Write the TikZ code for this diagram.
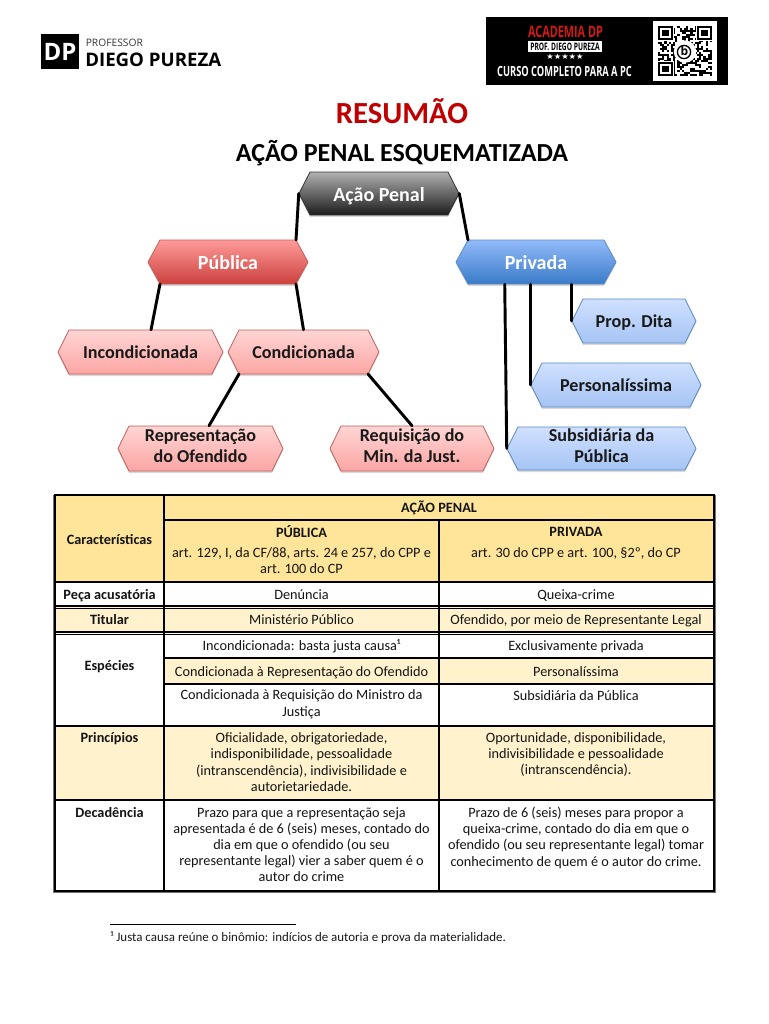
\documentclass[tikz,border=0pt]{standalone}
\usepackage{fontspec}
\usepackage{graphicx}
\setmainfont{Carlito}
\newfontfamily\logofont{Open Sans}
\newfontfamily\symfont{DejaVu Sans}
\definecolor{hdrY}{HTML}{FFE599}
\definecolor{lightY}{HTML}{FFF2CC}
\definecolor{redT}{HTML}{C00000}
\definecolor{grayA}{HTML}{B0B0B0}
\definecolor{grayB}{HTML}{1C1C1C}
\definecolor{redA}{HTML}{FF9B99}
\definecolor{redB}{HTML}{CB403D}
\definecolor{pinkA}{HTML}{FFD5D4}
\definecolor{pinkB}{HTML}{FBA6A4}
\definecolor{blueA}{HTML}{92BAF9}
\definecolor{blueB}{HTML}{3A7BC9}
\definecolor{paleA}{HTML}{D0E0FF}
\definecolor{paleB}{HTML}{A5C4F4}
\definecolor{redE}{HTML}{C0605D}
\definecolor{blueE}{HTML}{5A8AC4}
\newcommand{\hexbox}[8]{% name,left,right,top,bottom,inset,style,text
  \pgfmathsetlengthmacro{\hexw}{(#3-#2)*0.75}
  \pgfmathsetlengthmacro{\hexh}{(#5-#4)*0.75}
  \pgfmathsetmacro{\hexcx}{(#2+#3)/2}
  \pgfmathsetmacro{\hexcy}{(#4+#5)/2}
  \pgfmathsetmacro{\hexa}{#2+#6}
  \pgfmathsetmacro{\hexb}{#3-#6}
  \fill[black!25,opacity=.6] (#2,\hexcy+2) -- (\hexa,#4+2) -- (\hexb,#4+2) -- (#3,\hexcy+2) -- (\hexb,#5+2) -- (\hexa,#5+2) -- cycle;
  \shade[#7] (#2,\hexcy) -- (\hexa,#4) -- (\hexb,#4) -- (#3,\hexcy) -- (\hexb,#5) -- (\hexa,#5) -- cycle;
  \node[hextext,minimum width=\hexw,minimum height=\hexh] (#1) at (\hexcx,\hexcy) {#8};
  \coordinate (#1-tl) at (\hexa,#4);
  \coordinate (#1-tr) at (\hexb,#4);
  \coordinate (#1-bl) at (\hexa,#5);
  \coordinate (#1-br) at (\hexb,#5);
}
\newcommand{\wlabel}[1]{\raisebox{-.8pt}{\textcolor{white}{\fontsize{15}{15.7}\selectfont #1}}}
\tikzset{
  strutted/.style={execute at begin node=\strut,execute at end node=\strut},
  hextext/.style={inner sep=0pt,align=center,text=black!90,execute at begin node={\rule{0pt}{15pt}},execute at end node=\strut,font=\bfseries\fontsize{13.6}{15.7}\selectfont},
  hexgray/.style={top color=grayA,bottom color=grayB,draw=black!80,line width=.6pt},
  hexred/.style={top color=redA,bottom color=redB,draw=redE,line width=.6pt},
  hexredl/.style={top color=pinkA,bottom color=pinkB,draw=redE,line width=.6pt},
  hexblue/.style={top color=blueA,bottom color=blueB,draw=blueE,line width=.6pt},
  hexbluel/.style={top color=paleA,bottom color=paleB,draw=blueE,line width=.6pt},
  conn/.style={line width=2.2pt,black,line cap=round},
  celltxt/.style={inner sep=0pt,align=center,text=black!92,strutted,yshift=-1.1pt,font=\fontsize{10.7}{12.15}\selectfont},
  cellhead/.style={celltxt,font=\bfseries\fontsize{10.7}{12.15}\selectfont},
  rule/.style={black,line width=1.2pt},
  outer/.style={black,line width=1.5pt},
}
\begin{document}
\begin{tikzpicture}[x=0.75pt,y=-0.75pt]
\useasboundingbox (0,0) rectangle (768,1024);
\fill[white] (0,0) rectangle (768,1024);

% Logo
\fill[black] (41,34) rectangle (79,69);
\node[inner sep=0pt,text=white,font=\logofont\bfseries\fontsize{18}{18}\selectfont] (dp) at (60,52) {DP};
\node[inner sep=0pt,anchor=west,text=black!80,font=\logofont\fontsize{7.7}{8}\selectfont] (prof) at (85.5,42.5) {PROFESSOR};
\node[inner sep=0pt,anchor=west,text=black,font=\logofont\bfseries\fontsize{14}{15}\selectfont] (diego) at (85,60) {DIEGO PUREZA};

% Banner
\fill[black] (486,17) rectangle (728,85);
\node[inner sep=0pt,text={red!80!black!90!white}] (acad) at (565.5,32) {\resizebox{56pt}{8.6pt}{\logofont\bfseries ACADEMIA DP}};
\fill[white] (528,41) rectangle (602,52);
\node[inner sep=0pt,text=black] (prf) at (565,46.5) {\resizebox{52pt}{5.6pt}{\logofont\bfseries PROF. DIEGO PUREZA}};
\node[inner sep=0pt,text=white] (stars) at (565,56.3) {\resizebox{28pt}{4.2pt}{\symfont ★★★★★}};
\node[inner sep=0pt,text=white] (curso) at (564.5,72) {\resizebox{101pt}{7.6pt}{\logofont\bfseries CURSO COMPLETO PARA A PC}};
% QR
\fill[white] (653,21) rectangle (717,81);
\begin{scope}[shift={(658,26)},x=1.62pt,y=-1.5pt]
  \pgfmathsetseed{4711}
  \foreach \i in {0,...,24}{
    \foreach \j in {0,...,24}{
      \pgfmathsetmacro{\rr}{rnd}
      \ifdim\rr pt<0.52pt
        \fill[black] (\i,\j) rectangle ++(1,1);
      \fi
    }
  }
  \foreach \ox/\oy in {0/0,18/0,0/18}{
    \fill[white] (\ox-.5,\oy-.5) rectangle ++(8,8);
    \fill[black] (\ox,\oy) rectangle ++(7,7);
    \fill[white] (\ox+1,\oy+1) rectangle ++(5,5);
    \fill[black] (\ox+2,\oy+2) rectangle ++(3,3);
  }
  \fill[white] (12.5,12.8) circle [x radius=5.2,y radius=5.6];
\end{scope}
\draw[black,line width=1pt] (684,52) circle [radius=6.6];
\node[inner sep=0pt,text=black,font=\logofont\bfseries\fontsize{9}{9}\selectfont] (qrb) at (684.3,51) {b};

% Titles
\node[inner sep=0pt,text=redT,font=\bfseries\fontsize{23}{26}\selectfont] (resumo) at (402,111) {RESUMÃO};
\node[inner sep=0pt,text=black,font=\bfseries\fontsize{19.5}{22}\selectfont] (sub) at (402,153) {AÇÃO PENAL ESQUEMATIZADA};

% Hexagons
\hexbox{acao}{299}{459}{172}{215}{11}{hexgray}{\wlabel{Ação Penal}}
\hexbox{pub}{148}{308}{240}{284}{12}{hexred}{\wlabel{Pública}}
\hexbox{priv}{456}{616}{240}{284}{12}{hexblue}{\wlabel{Privada}}
\hexbox{inc}{58}{223}{330}{374}{11}{hexredl}{Incondicionada}
\hexbox{cond}{228}{379}{330}{374}{11}{hexredl}{Condicionada}
\hexbox{rep}{118}{283}{426}{471}{11}{hexredl}{Representação\\do Ofendido}
\hexbox{req}{330}{494}{426}{471}{11}{hexredl}{Requisição do\\Min. da Just.}
\hexbox{dita}{572}{696}{299}{343}{11}{hexbluel}{Prop. Dita}
\hexbox{pers}{531}{701}{363}{407}{11}{hexbluel}{Personalíssima}
\hexbox{subs}{507}{696}{427}{470}{11}{hexbluel}{Subsidiária da\\Pública}

% Connectors
\draw[conn] (acao.west) -- (pub-tr);
\draw[conn] (acao.east) -- (priv-tl);
\draw[conn] (pub-bl) -- ([xshift=7.9pt]inc.north);
\draw[conn] (pub-br) -- (cond.north);
\draw[conn] (cond-bl) -- ([xshift=6.4pt]rep.north);
\draw[conn] (cond-br) -- (req.north);
\draw[conn] ([xshift=-1.5pt]subs.west |- priv.south) -- (subs.west);
\draw[conn] (pers.west |- priv.south) -- (pers.west);
\draw[conn] (dita.west |- priv.south) -- (dita.west);

% Table fills
\fill[hdrY] (55,495) rectangle (713,582);
\fill[lightY] (55,607) rectangle (713,633);
\fill[lightY] (164,658) rectangle (713,684);
\fill[lightY] (55,726) rectangle (713,800);

% Table rules
\draw[rule] (164,520) -- (713,520);
\draw[rule] (55,582) -- (713,582);
\draw[black,line width=.8pt] (55,606) -- (713,606);
\draw[black,line width=.8pt] (55,608.6) -- (713,608.6);
\draw[black,line width=.8pt] (55,632) -- (713,632);
\draw[black,line width=.8pt] (55,634.6) -- (713,634.6);
\draw[rule] (164,658) -- (713,658);
\draw[rule] (164,684) -- (713,684);
\draw[rule] (55,726) -- (713,726);
\draw[rule] (55,800) -- (713,800);
\draw[rule] (164,495) -- (164,891);
\draw[rule] (439,520) -- (439,891);
\draw[black!55,line width=.9pt] (54,494.5) -- (54,892) -- (715,892) -- (715,494.5);
\draw[outer] (55.3,495) rectangle (713.7,890.7);

% Table text
\node[cellhead] (t0) at (439,508) {AÇÃO PENAL};
\node[cellhead] (t1) at (109.5,540) {Características};
\node[cellhead] (t2) at (301.5,532) {PÚBLICA};
\node[cellhead] (t3) at (576,532) {PRIVADA};
\node[celltxt] (t4) at (301.5,561.5) {art. 129, I, da CF/88, arts. 24 e 257, do CPP e\\art. 100 do CP};
\node[celltxt] (t5) at (576,553) {art. 30 do CPP e art. 100, §2º, do CP};
\node[cellhead] (t6) at (109.5,594.5) {Peça acusatória};
\node[celltxt] (t7) at (301.5,594.5) {Denúncia};
\node[celltxt] (t8) at (576,594.5) {Queixa-crime};
\node[cellhead] (t9) at (109.5,620) {Titular};
\node[celltxt] (t10) at (301.5,620) {Ministério Público};
\node[celltxt] (t11) at (576,620) {Ofendido, por meio de Representante Legal};
\node[cellhead] (t12) at (109.5,666) {Espécies};
\node[celltxt] (t13) at (301.5,646) {Incondicionada: basta justa causa¹};
\node[celltxt] (t14) at (576,646) {Exclusivamente privada};
\node[celltxt] (t15) at (301.5,671.5) {Condicionada à Representação do Ofendido};
\node[celltxt] (t16) at (576,671.5) {Personalíssima};
\node[celltxt] (t17) at (301.5,704) {Condicionada à Requisição do Ministro da\\Justiça};
\node[celltxt] (t18) at (576,696) {Subsidiária da Pública};
\node[cellhead] (t19) at (109.5,738) {Princípios};
\node[celltxt] (t20) at (301.5,763) {Oficialidade, obrigatoriedade,\\indisponibilidade, pessoalidade\\(intranscendência), indivisibilidade e\\autorietariedade.};
\node[celltxt] (t21) at (576,754.5) {Oportunidade, disponibilidade,\\indivisibilidade e pessoalidade\\(intranscendência).};
\node[cellhead] (t22) at (109.5,813) {Decadência};
\node[celltxt] (t23) at (301.5,845.5) {Prazo para que a representação seja\\apresentada é de 6 (seis) meses, contado do\\dia em que o ofendido (ou seu\\representante legal) vier a saber quem é o\\autor do crime};
\node[celltxt] (t24) at (576,837.5) {Prazo de 6 (seis) meses para propor a\\queixa-crime, contado do dia em que o\\ofendido (ou seu representante legal) tomar\\conhecimento de quem é o autor do crime.};

% Footnote
\coordinate (fa) at (110,924);
\coordinate (fb) at (296,924);
\draw[black,line width=.6pt] (fa) -- (fb);
\node[inner sep=0pt,anchor=west,text=black!90,font=\fontsize{9.7}{11}\selectfont] (fn) at (110,938) {¹ Justa causa reúne o binômio: indícios de autoria e prova da materialidade.};
\end{tikzpicture}
\end{document}
